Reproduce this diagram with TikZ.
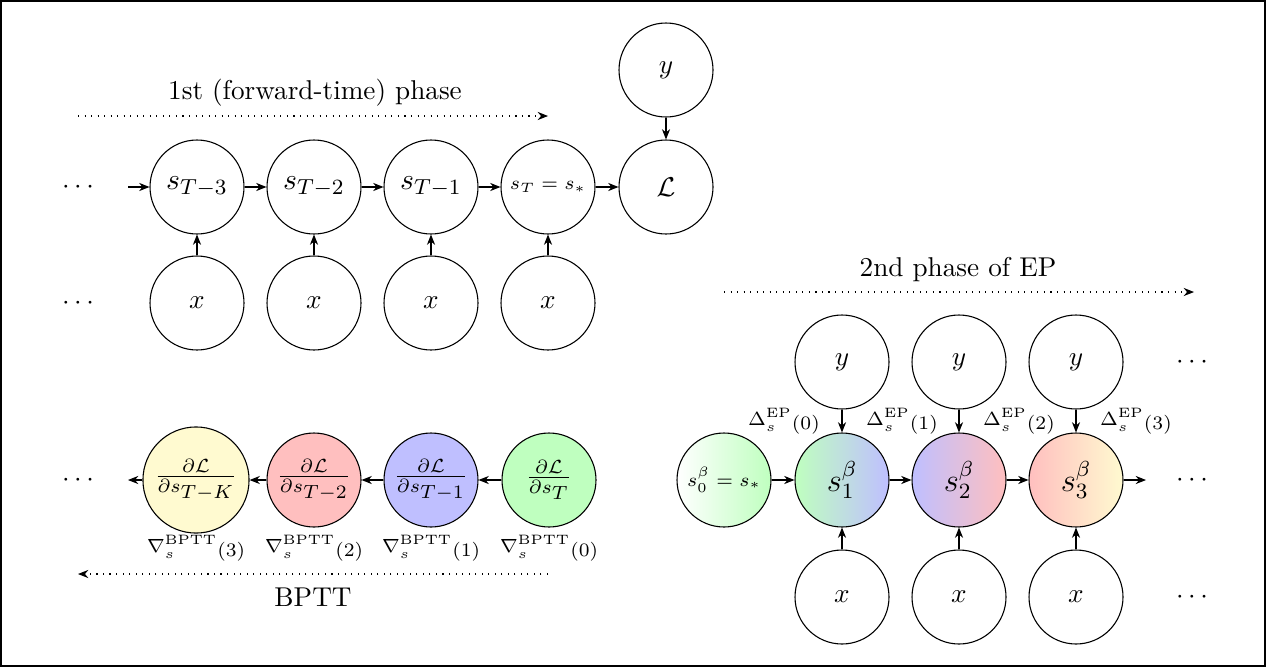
\documentclass[tikz,border=0pt]{standalone}
\usetikzlibrary{arrows.meta}
\definecolor{greenc}{RGB}{191,255,191}
\definecolor{bluec}{RGB}{191,191,255}
\definecolor{redc}{RGB}{255,191,191}
\definecolor{yelc}{RGB}{255,250,208}
\newcommand{\lowk}[1]{\raisebox{-1.3pt}{$(#1)$}}
\begin{document}
\begin{tikzpicture}[x=0.3676pt,y=-0.3676pt,
  >={Stealth[length=3.8pt,width=3pt]},
  cnode/.style={circle,draw,minimum size=34.55pt,inner sep=1pt},
  bigs/.style={font=\fontsize{11}{13}\selectfont},
  smalls/.style={font=\fontsize{7.5}{9}\selectfont},
  lbl/.style={font=\fontsize{7.5}{9}\selectfont},
  dotarr/.style={->,dotted}]
\useasboundingbox (0,0) rectangle (1266,668);
\draw (1,1) rectangle (1265,666);

% ---------- forward phase ----------
\node (dA) at (78,187) {$\cdots$};
\node (dB) at (78,303) {$\cdots$};
\coordinate (fin) at (128,187);
\node[cnode,bigs] (sT3) at (197,187) {$s_{T-3}$};
\node[cnode,bigs] (sT2) at (314,187) {$s_{T-2}$};
\node[cnode,bigs] (sT1) at (431,187) {$s_{T-1}$};
\node[cnode,smalls] (sT) at (548,187) {$s_T = s_*$};
\node[cnode] (L) at (666,187) {$\mathcal{L}$};
\node[cnode] (yt) at (666,70) {$y$};
\node[cnode] (x1) at (197,303) {$x$};
\node[cnode] (x2) at (314,303) {$x$};
\node[cnode] (x3) at (431,303) {$x$};
\node[cnode] (x4) at (548,303) {$x$};
\draw[->] (fin) -- (sT3);
\draw[->] (sT3) -- (sT2);
\draw[->] (sT2) -- (sT1);
\draw[->] (sT1) -- (sT);
\draw[->] (sT) -- (L);
\draw[->] (yt) -- (L);
\draw[->] (x1) -- (sT3);
\draw[->] (x2) -- (sT2);
\draw[->] (x3) -- (sT1);
\draw[->] (x4) -- (sT);
\node (ftxt) at (315,93) {1st (forward-time) phase};
\coordinate (f1) at (78,116);
\coordinate (f2) at (548,116);
\draw[dotarr] (f1) -- (f2);

% ---------- BPTT ----------
\node (dC) at (78,480) {$\cdots$};
\coordinate (gend) at (128,480);
\node[cnode,fill=yelc,minimum size=39pt] (gK) at (196,480) {$\frac{\partial\mathcal{L}}{\partial s_{\scriptstyle T-K}}$};
\node[cnode,fill=redc] (g2) at (314,480) {$\frac{\partial\mathcal{L}}{\partial s_{\scriptstyle T-2}}$};
\node[cnode,fill=bluec] (g1) at (431,480) {$\frac{\partial\mathcal{L}}{\partial s_{\scriptstyle T-1}}$};
\node[cnode,fill=greenc] (g0) at (549,480) {$\frac{\partial\mathcal{L}}{\partial s_{\scriptstyle T}}$};
\draw[->] (g0) -- (g1);
\draw[->] (g1) -- (g2);
\draw[->] (g2) -- (gK);
\draw[->] (gK) -- (gend);
\node[lbl] (n3) at (196,548) {$\nabla_s^{\mathrm{BPTT}}$\lowk{3}};
\node[lbl] (n2) at (314,548) {$\nabla_s^{\mathrm{BPTT}}$\lowk{2}};
\node[lbl] (n1) at (431,548) {$\nabla_s^{\mathrm{BPTT}}$\lowk{1}};
\node[lbl] (n0) at (549,548) {$\nabla_s^{\mathrm{BPTT}}$\lowk{0}};
\coordinate (b1) at (548,574);
\coordinate (b2) at (78,574);
\draw[dotarr] (b1) -- (b2);
\node (btxt) at (313,597) {BPTT};

% ---------- EP second phase ----------
\node (etxt) at (958,270) {2nd phase of EP};
\coordinate (p1) at (724,292);
\coordinate (p2) at (1194,292);
\draw[dotarr] (p1) -- (p2);
\node[cnode] (ey1) at (842,362) {$y$};
\node[cnode] (ey2) at (959,362) {$y$};
\node[cnode] (ey3) at (1076,362) {$y$};
\node (dD) at (1192,362) {$\cdots$};
\node[cnode,smalls,left color=white,right color=greenc] (e0) at (724,480) {$s_0^\beta = s_*$};
\node[cnode,font=\large,left color=greenc,right color=bluec] (e1) at (842,480) {$s_1^\beta$};
\node[cnode,font=\large,left color=bluec,right color=redc] (e2) at (959,480) {$s_2^\beta$};
\node[cnode,font=\large,left color=redc,right color=yelc] (e3) at (1076,480) {$s_3^\beta$};
\coordinate (eend) at (1146,480);
\node (dE) at (1192,480) {$\cdots$};
\node[cnode] (ex1) at (842,597) {$x$};
\node[cnode] (ex2) at (959,597) {$x$};
\node[cnode] (ex3) at (1076,597) {$x$};
\node (dF) at (1192,597) {$\cdots$};
\draw[->] (e0) -- (e1);
\draw[->] (e1) -- (e2);
\draw[->] (e2) -- (e3);
\draw[->] (e3) -- (eend);
\draw[->] (ey1) -- (e1);
\draw[->] (ey2) -- (e2);
\draw[->] (ey3) -- (e3);
\draw[->] (ex1) -- (e1);
\draw[->] (ex2) -- (e2);
\draw[->] (ex3) -- (e3);
\node[lbl] (D0) at (784,421) {$\Delta_s^{\mathrm{EP}}$\lowk{0}};
\node[lbl] (D1) at (902,421) {$\Delta_s^{\mathrm{EP}}$\lowk{1}};
\node[lbl] (D2) at (1019,421) {$\Delta_s^{\mathrm{EP}}$\lowk{2}};
\node[lbl] (D3) at (1136,421) {$\Delta_s^{\mathrm{EP}}$\lowk{3}};
\end{tikzpicture}
\end{document}
